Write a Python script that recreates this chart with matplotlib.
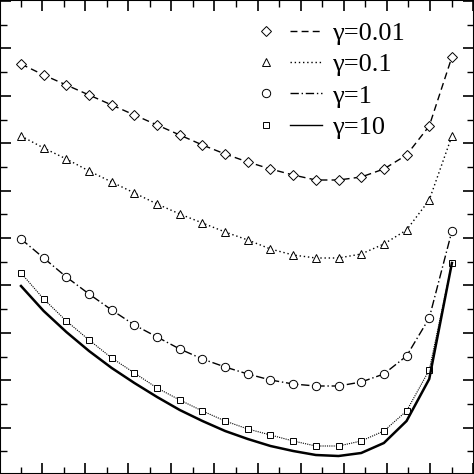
import numpy as np
import matplotlib.pyplot as plt
from matplotlib.lines import Line2D
from matplotlib.legend_handler import HandlerTuple
from matplotlib.ticker import MultipleLocator

# values (pixel-like units, y grows downward)
x = [22 + 22.68 * i for i in range(20)]
y_001 = [63, 74, 84, 94, 104, 114, 124, 134, 144, 153, 161, 168, 174, 179, 179, 176, 168, 154, 125, 56]
y_01 = [135, 147, 158, 170, 181, 192, 203, 213, 222, 231, 239, 248, 254, 257, 257, 253, 243, 229, 199, 135]
y_1 = [238, 257, 276, 293, 309, 324, 336, 348, 358, 366, 373, 379, 383, 385, 385, 381, 373, 355, 317, 230]
y_10 = [272, 298, 320, 339, 357, 372, 387, 399, 410, 420, 428, 434, 440, 445, 445, 440, 430, 410, 369, 262]
y_exact = [285, 310, 331, 350, 367, 382, 396, 409, 420, 430, 438, 445, 450, 454, 455, 452, 442, 420, 378, 262]

fig = plt.figure(figsize=(4.74, 4.74), dpi=100)
ax = fig.add_axes([0, 0, 1, 1])

mk = dict(mfc="white", mec="black", mew=0.7, color="black")
ax.plot(x, y_001, ls=(0, (5, 3)), lw=1.0, marker="D", ms=5, **mk)
ax.plot(x, y_01, ls=(0, (1, 2)), lw=1.0, marker="^", ms=6, **mk)
ax.plot(x, y_1, ls=(0, (6, 2, 1, 2)), lw=1.0, marker="o", ms=6, **mk)
ax.plot(x, y_10, ls=(0, (1, 1)), lw=0.8, marker="s", ms=5, **mk)
ax.plot(x, y_exact, color="black", lw=1.8)

labels = ["γ=0.01", "γ=0.1", "γ=1", "γ=10"]
styles = [("D", 5, (0, (5, 3))), ("^", 6, (0, (1, 2))), ("o", 6, (0, (6, 2, 1, 2))), ("s", 5, "-")]
handles = []
for m, s, ls in styles:
    h1 = Line2D([], [], ls="none", marker=m, ms=s, mfc="white", mec="black", mew=0.7)
    h2 = Line2D([], [], ls=ls, lw=1.0, color="black")
    handles.append((h1, h2))
ax.legend(handles, labels, handler_map={tuple: HandlerTuple(ndivide=None, pad=0.3)},
          loc="upper right", bbox_to_anchor=(0.905, 1.005), frameon=False, handlelength=2.7,
          handletextpad=0.4, labelspacing=0.3, prop={"family": "Liberation Serif", "size": 19})

ax.set_xlim(1, 475)
ax.set_ylim(473, -1)
ax.xaxis.set_major_locator(MultipleLocator(43.1))
ax.xaxis.set_minor_locator(MultipleLocator(21.55))
ax.yaxis.set_major_locator(MultipleLocator(47.4))
ax.yaxis.set_minor_locator(MultipleLocator(23.7))
ax.tick_params(which="both", direction="in", top=True, right=True,
               labelbottom=False, labelleft=False)
ax.tick_params(which="major", length=8, width=1.2)
ax.tick_params(which="minor", length=5, width=1.0)
for sp in ax.spines.values():
    sp.set_linewidth(1.5)

fig.savefig("out.png", dpi=100)
